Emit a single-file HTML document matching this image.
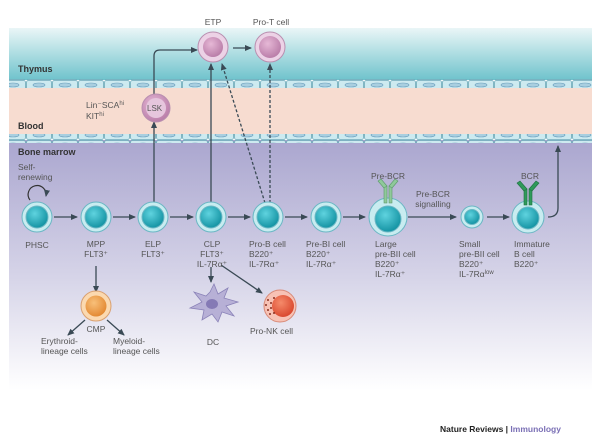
<!DOCTYPE html>
<html><head><meta charset="utf-8"><style>
html,body{margin:0;padding:0;background:#fff;width:600px;height:438px;overflow:hidden}
text{font-family:"Liberation Sans",sans-serif;font-size:8.5px;fill:#555}
.b{font-weight:bold;fill:#333;font-size:9px}
</style></head><body>
<svg width="600" height="438" viewBox="0 0 600 438" xmlns="http://www.w3.org/2000/svg">
<defs>
<linearGradient id="thy" x1="0" y1="0" x2="0" y2="1"><stop offset="0" stop-color="#eaf6f7"/><stop offset="1" stop-color="#6fc3cc"/></linearGradient>
<linearGradient id="bm" x1="0" y1="0" x2="0" y2="1"><stop offset="0" stop-color="#aaa6cf"/><stop offset="0.55" stop-color="#d6d4e8"/><stop offset="1" stop-color="#ffffff"/></linearGradient>
<radialGradient id="cyan" cx="0.4" cy="0.35" r="0.7"><stop offset="0" stop-color="#5fd3df"/><stop offset="1" stop-color="#0f8f9f"/></radialGradient>
<radialGradient id="pink" cx="0.4" cy="0.35" r="0.7"><stop offset="0" stop-color="#e6b8d6"/><stop offset="1" stop-color="#b77aa6"/></radialGradient>
<radialGradient id="org" cx="0.4" cy="0.35" r="0.7"><stop offset="0" stop-color="#f8c07a"/><stop offset="1" stop-color="#e2862e"/></radialGradient>
<radialGradient id="red" cx="0.4" cy="0.35" r="0.7"><stop offset="0" stop-color="#f58a6a"/><stop offset="1" stop-color="#d8452c"/></radialGradient>
<marker id="ah" markerWidth="8" markerHeight="8" refX="6" refY="3" orient="auto" markerUnits="userSpaceOnUse"><path d="M0,0 L7,3 L0,6z" fill="#3a4a55"/></marker>
<pattern id="mem" width="26" height="10" patternUnits="userSpaceOnUse"><rect x="0.5" y="0.5" width="25" height="9" rx="2" fill="#cdeaf0" stroke="#6aa8b8" stroke-width="0.8"/><ellipse cx="13" cy="5" rx="6" ry="2" fill="#a9cfe0" stroke="#6a9fbd" stroke-width="0.6"/></pattern>
</defs>
<rect x="9" y="28" width="583" height="52" fill="url(#thy)"/>
<rect x="9" y="86" width="583" height="50" fill="#f7dcd0"/>
<rect x="9" y="140" width="583" height="250" fill="url(#bm)"/>
<rect x="9" y="79" width="583" height="9" fill="url(#mem)"/>
<rect x="9" y="134" width="583" height="9" fill="url(#mem)"/>
<text x="18" y="72" class="b">Thymus</text>
<text x="18" y="129" class="b">Blood</text>
<text x="18" y="155" class="b">Bone marrow</text>
<text x="18" y="170">Self-</text><text x="18" y="180">renewing</text>
<path d="M30,200 A9,9 0 1 1 46,196" fill="none" stroke="#333" stroke-width="1.2" marker-end="url(#ah)"/>
<text x="86" y="108">Lin⁻SCA<tspan font-size="6" dy="-3">hi</tspan></text>
<text x="86" y="119">KIT<tspan font-size="6" dy="-3">hi</tspan></text>
<g stroke="#3a4a55" stroke-width="1.3" fill="none">
<path d="M154,203 V122" marker-end="url(#ah)"/>
<path d="M154,94 V56 Q154,50 160,50 H197" marker-end="url(#ah)"/>
<path d="M211,203 V64" marker-end="url(#ah)"/>
<path d="M233,48 H251" marker-end="url(#ah)"/>
<path d="M265,203 L222,64" stroke-dasharray="3,2" marker-end="url(#ah)"/>
<path d="M270,203 V64" stroke-dasharray="3,2" marker-end="url(#ah)"/>
<path d="M54,217 H77" marker-end="url(#ah)"/>
<path d="M113,217 H135" marker-end="url(#ah)"/>
<path d="M170,217 H193" marker-end="url(#ah)"/>
<path d="M228,217 H250" marker-end="url(#ah)"/>
<path d="M285,217 H307" marker-end="url(#ah)"/>
<path d="M343,217 H365" marker-end="url(#ah)"/>
<path d="M408,217 H456" marker-end="url(#ah)"/>
<path d="M487,217 H509" marker-end="url(#ah)"/>
<path d="M548,217 Q558,217 558,208 V146" marker-end="url(#ah)"/>
<path d="M96,266 V292" marker-end="url(#ah)"/>
<path d="M85,320 L68,335" marker-end="url(#ah)"/>
<path d="M107,320 L124,335" marker-end="url(#ah)"/>
<path d="M211,267 V282" marker-end="url(#ah)"/>
<path d="M221,265 L262,293" marker-end="url(#ah)"/>
</g>
<g>
<circle cx="213" cy="47" r="15" fill="#ecd2e6" stroke="#b98fb0"/><circle cx="213" cy="47" r="10" fill="url(#pink)"/>
<circle cx="270" cy="47" r="15" fill="#ecd2e6" stroke="#b98fb0"/><circle cx="270" cy="47" r="11" fill="url(#pink)"/>
<circle cx="156" cy="108" r="14" fill="url(#pink)" stroke="#b98fb0"/><circle cx="156" cy="108" r="10" fill="#e6c6dd"/>
<text x="147" y="111" style="font-size:8px;fill:#555">LSK</text>
</g>
<g stroke="#6ab7c4" stroke-width="1">
<circle cx="37" cy="217" r="15" fill="#c8ecf0"/><circle cx="37" cy="217" r="11" fill="url(#cyan)"/>
<circle cx="96" cy="217" r="15" fill="#c8ecf0"/><circle cx="96" cy="217" r="11" fill="url(#cyan)"/>
<circle cx="153" cy="217" r="15" fill="#c8ecf0"/><circle cx="153" cy="217" r="11" fill="url(#cyan)"/>
<circle cx="211" cy="217" r="15" fill="#c8ecf0"/><circle cx="211" cy="217" r="11" fill="url(#cyan)"/>
<circle cx="268" cy="217" r="15" fill="#c8ecf0"/><circle cx="268" cy="217" r="11" fill="url(#cyan)"/>
<circle cx="326" cy="217" r="15" fill="#c8ecf0"/><circle cx="326" cy="217" r="11" fill="url(#cyan)"/>
<circle cx="388" cy="217" r="19" fill="#c8ecf0"/><circle cx="388" cy="219" r="13" fill="url(#cyan)"/>
<circle cx="472" cy="217" r="11" fill="#c8ecf0"/><circle cx="472" cy="217" r="7.5" fill="url(#cyan)"/>
<circle cx="528" cy="217" r="16" fill="#c8ecf0"/><circle cx="528" cy="218" r="11" fill="url(#cyan)"/>
</g>
<g fill="#8fc99a" stroke="#5c9a6a" stroke-width="0.6">
<rect x="384" y="186" width="3" height="17"/><rect x="389" y="186" width="3" height="17"/>
<path d="M384,188 L378,181 L381,179 L387,186z"/><path d="M392,188 L398,181 L395,179 L389,186z"/>
</g>
<g fill="#2f9a5a" stroke="#1f7040" stroke-width="0.6">
<rect x="524" y="189" width="3" height="16"/><rect x="529" y="189" width="3" height="16"/>
<path d="M524,191 L517,183 L520,181 L527,189z"/><path d="M532,191 L539,183 L536,181 L529,189z"/>
</g>
<circle cx="96" cy="306" r="15" fill="#fbd9b0" stroke="#d9a070"/><circle cx="96" cy="306" r="10.5" fill="url(#org)"/>
<circle cx="280" cy="306" r="16" fill="#f7c2b5" stroke="#d88a78"/><circle cx="283" cy="306" r="11" fill="url(#red)"/>
<g fill="#8a3020"><circle cx="268" cy="300" r="1"/><circle cx="266" cy="305" r="1"/><circle cx="268" cy="310" r="1"/><circle cx="271" cy="303" r="1"/><circle cx="271" cy="308" r="1"/><circle cx="270" cy="314" r="1"/><circle cx="274" cy="298" r="1"/><circle cx="274" cy="313" r="1"/></g>
<g>
<path d="M210,292 L214,284 L218,294 L228,288 L224,298 L238,302 L226,306 L234,316 L222,312 L218,322 L212,314 L202,320 L204,310 L190,308 L202,302 L194,292 L206,296z" fill="#b7b0d6" stroke="#8a82b8" stroke-width="0.8"/>
<ellipse cx="212" cy="304" rx="6" ry="5" fill="#857ab5"/>
</g>
<g text-anchor="middle">
<text x="213" y="25">ETP</text><text x="271" y="25">Pro-T cell</text>
<text x="37" y="248">PHSC</text>
<text x="96" y="247">MPP</text><text x="96" y="257">FLT3⁺</text>
<text x="153" y="247">ELP</text><text x="153" y="257">FLT3⁺</text>
<text x="212" y="247">CLP</text><text x="212" y="257">FLT3⁺</text><text x="212" y="267">IL-7Rα⁺</text>
<text x="96" y="332">CMP</text>
<text x="213" y="345">DC</text>
<text x="388" y="179">Pre-BCR</text>
<text x="433" y="197">Pre-BCR</text><text x="433" y="207">signalling</text>
<text x="530" y="179">BCR</text>
</g>
<text x="249" y="247">Pro-B cell</text><text x="249" y="257">B220⁺</text><text x="249" y="267">IL-7Rα⁺</text>
<text x="306" y="247">Pre-BI cell</text><text x="306" y="257">B220⁺</text><text x="306" y="267">IL-7Rα⁺</text>
<text x="375" y="247">Large</text><text x="375" y="257">pre-BII cell</text><text x="375" y="267">B220⁺</text><text x="375" y="277">IL-7Rα⁺</text>
<text x="459" y="247">Small</text><text x="459" y="257">pre-BII cell</text><text x="459" y="267">B220⁺</text><text x="459" y="277">IL-7Rα<tspan font-size="6" dy="-3">low</tspan></text>
<text x="514" y="247">Immature</text><text x="514" y="257">B cell</text><text x="514" y="267">B220⁺</text>
<text x="41" y="344">Erythroid-</text><text x="41" y="354">lineage cells</text>
<text x="113" y="344">Myeloid-</text><text x="113" y="354">lineage cells</text>
<text x="250" y="334">Pro-NK cell</text>
<text x="440" y="432" style="font-weight:bold;fill:#222;font-size:8.5px">Nature Reviews | <tspan fill="#7a6fb5">Immunology</tspan></text>
</svg>
</body></html>
